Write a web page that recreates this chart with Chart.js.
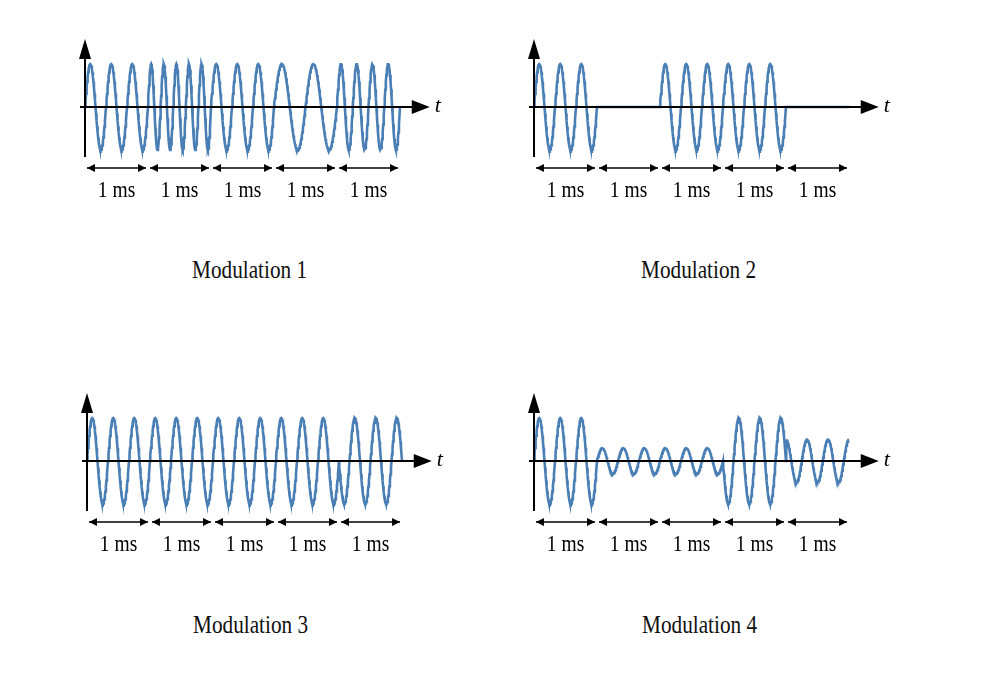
<!DOCTYPE html>
<html><head><meta charset="utf-8">
<script src="https://cdn.jsdelivr.net/npm/chart.js@4"></script>
<style>
body{margin:0;background:#fff;width:994px;height:679px;position:relative;overflow:hidden}
.p{position:absolute;width:380px;height:170px}
.t{position:absolute;font-family:"Liberation Serif",serif;font-size:25px;transform:scaleX(0.85);transform-origin:0 0;white-space:nowrap;color:#111}
</style></head><body>
<div class="p" style="left:70px;top:37px"><canvas id="c0" width="380" height="170"></canvas></div>
<div class="p" style="left:519px;top:37px"><canvas id="c1" width="380" height="170"></canvas></div>
<div class="p" style="left:72px;top:391px"><canvas id="c2" width="380" height="170"></canvas></div>
<div class="p" style="left:519px;top:391px"><canvas id="c3" width="380" height="170"></canvas></div>
<div class="t" style="left:192px;top:256px">Modulation 1</div>
<div class="t" style="left:641px;top:256px">Modulation 2</div>
<div class="t" style="left:193px;top:611px">Modulation 3</div>
<div class="t" style="left:642px;top:611px">Modulation 4</div>
<script>
// per-symbol parameters (5 symbols of 1 ms each)
const segmentLabels = ["1 ms","1 ms","1 ms","1 ms","1 ms"];
const titles = ["Modulation 1","Modulation 2","Modulation 3","Modulation 4"];
const cycles1 = [3,5,3,2,4];       const amp1 = [1,1,1,1,1];       const phase1 = [0,0,0,0,0];
const cycles2 = [3,3,3,3,3];       const amp2 = [1,0,1,1,0];       const phase2 = [0,0,0,0,0];
const cycles3 = [3,3,3,3,3];       const amp3 = [1,1,1,1,1];       const phase3 = [0,0,0,0,180];
const cycles4 = [3,3,3,3,3];       const amp4 = [1,0.3,0.3,1,0.5]; const phase4 = [0,0,0,180,90];
const sets = [[cycles1,amp1,phase1],[cycles2,amp2,phase2],[cycles3,amp3,phase3],[cycles4,amp4,phase4]];

function wave(c,a,p){
  const pts=[];
  for(let s=0;s<5;s++){
    const n=120;
    for(let i=0;i<=n;i++){
      const t=i/n;
      pts.push({x:s+t,y:a[s]*Math.sin(2*Math.PI*c[s]*t+p[s]*Math.PI/180)});
    }
  }
  return pts;
}
const deco={id:'deco',afterDraw(ch){
  const g=ch.ctx,xs=ch.scales.x,ys=ch.scales.y;
  const x0=xs.getPixelForValue(0),y0=ys.getPixelForValue(0);
  g.save();g.strokeStyle='#000';g.fillStyle='#000';g.lineWidth=2;
  g.beginPath();g.moveTo(x0,y0+50);g.lineTo(x0,y0-55);g.stroke();
  g.beginPath();g.moveTo(x0,y0-68);g.lineTo(x0-6,y0-48);g.lineTo(x0+6,y0-48);g.fill();
  const xe=xs.getPixelForValue(5.25);
  g.beginPath();g.moveTo(x0-5,y0);g.lineTo(xe,y0);g.stroke();
  g.beginPath();g.moveTo(xe+14,y0);g.lineTo(xe-4,y0-7);g.lineTo(xe-4,y0+7);g.fill();
  g.font='italic 22px "Liberation Serif"';g.textBaseline='middle';g.fillText('t',xe+19,y0-1);
  g.lineWidth=1.3;const yb=y0+61;
  g.font='23px "Liberation Serif"';g.textAlign='center';
  segmentLabels.forEach((l,s)=>{
    const a=xs.getPixelForValue(s)+2,b=xs.getPixelForValue(s+1)-2;
    g.beginPath();g.moveTo(a,yb);g.lineTo(b,yb);g.stroke();
    g.beginPath();g.moveTo(a,yb);g.lineTo(a+8,yb-4);g.lineTo(a+8,yb+4);g.fill();
    g.beginPath();g.moveTo(b,yb);g.lineTo(b-8,yb-4);g.lineTo(b-8,yb+4);g.fill();
    g.save();g.translate((a+b)/2,yb+23);g.scale(0.85,1);g.fillText(l,0,0);g.restore();
  });
  g.restore();
}};
sets.forEach((d,i)=>{
  new Chart(document.getElementById('c'+i),{type:'line',
    data:{datasets:[{data:wave(...d),borderColor:'#4a7fb5',borderWidth:2.6,pointRadius:0,fill:false,tension:0}]},
    options:{responsive:false,animation:false,events:[],layout:{padding:0},
      plugins:{legend:{display:false},tooltip:{enabled:false}},
      scales:{x:{type:'linear',display:false,min:-15/63,max:(380-15)/63},
              y:{display:false,min:-100/43,max:70/43}}},
    plugins:[deco]});
});
</script>
</body></html>
